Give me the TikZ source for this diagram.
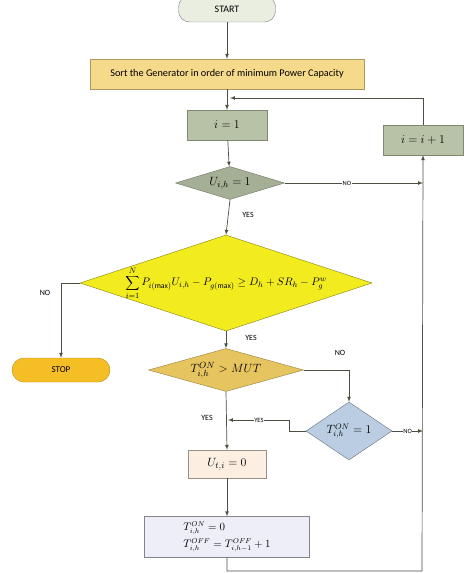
\documentclass[tikz,border=0pt]{standalone}
\usepackage{fontspec}
\setmainfont{Carlito}
\usetikzlibrary{arrows, shapes.geometric}
\definecolor{flowline}{RGB}{74,80,64}
\definecolor{startfill}{RGB}{233,238,224}
\definecolor{sortfill}{RGB}{246,218,140}
\definecolor{greenfill}{RGB}{183,194,166}
\definecolor{sumfill}{RGB}{242,236,30}
\definecolor{stopfill}{RGB}{245,190,36}
\definecolor{goldfill}{RGB}{230,196,96}
\definecolor{bluefill}{RGB}{186,205,226}
\definecolor{peachfill}{RGB}{252,239,226}
\definecolor{lilacfill}{RGB}{238,238,248}
\tikzstyle{start-box}=[draw=gray, fill=startfill, rounded corners=11bp, minimum width=97bp, minimum height=26bp, font=\fontsize{10}{12}\selectfont]
\tikzstyle{sort-box}=[draw=sortfill!70!black, fill=sortfill, minimum width=274bp, minimum height=30bp, font=\fontsize{10.3}{12}\selectfont]
\tikzstyle{green-box}=[draw=greenfill!70!black, fill=greenfill, minimum width=80bp, minimum height=30bp, font=\fontsize{13}{15}\selectfont]
\tikzstyle{stop-box}=[draw=stopfill!75!black, fill=stopfill, rounded corners=12bp, minimum width=98bp, minimum height=24bp, font=\fontsize{9}{10}\selectfont]
\tikzstyle{decision}=[diamond, inner sep=0pt, font=\fontsize{13}{15}\selectfont]
\tikzstyle{flow}=[draw=flowline, line width=0.7bp, -latex]
\tikzstyle{tag}=[font=\fontsize{8}{9}\selectfont, inner sep=1bp]
\tikzstyle{small-tag}=[font=\fontsize{6.5}{7}\selectfont, inner sep=0.5bp, fill=white]

\begin{document}
\begin{tikzpicture}[x=1bp, y=-1bp]
\useasboundingbox (0,0) rectangle (474,573);

\node[start-box] (start) at (227,9) {START};
\node[sort-box] (sort) at (227,74) {Sort the Generator in order of minimum Power Capacity};
\node[green-box] (init) at (227,125) {$i=1$};
\node[green-box] (incr) at (423,140) {$i=i+1$};
\node[decision, draw=greenfill!60!black, fill=greenfill!90!black, minimum width=109bp, minimum height=33bp, aspect=3.3] (chkU) at (230,183) {$U_{i,h}=1$};
\node[decision, draw=sumfill!55!black, fill=sumfill, minimum width=292bp, minimum height=96bp, aspect=3.04, inner ysep=-4bp, font=\fontsize{11}{13}\selectfont] (sumchk) at (226,283) {$\displaystyle\sum_{i=1}^{N} P_{i(\max)}U_{i,h}-P_{g(\max)}\geq D_h+SR_h-P_g^w$};
\node[stop-box] (stop) at (61,370) {STOP};
\node[decision, draw=goldfill!65!black, fill=goldfill, minimum width=155bp, minimum height=43bp, aspect=3.6] (chkT) at (226,370) {$T_{i,h}^{ON}>MUT$};
\node[decision, draw=bluefill!55!black, fill=bluefill, minimum width=86bp, minimum height=58bp, aspect=1.48, font=\fontsize{12}{14}\selectfont] (chkT1) at (349,431) {$T_{i,h}^{ON}=1$};
\node[draw=peachfill!60!black, fill=peachfill, minimum width=78bp, minimum height=28bp, font=\fontsize{13}{15}\selectfont] (setU) at (227,464) {$U_{t,i}=0$};
\node[draw=lilacfill!55!black, fill=lilacfill, minimum width=165bp, minimum height=41bp, align=left, inner sep=1bp, font=\fontsize{10.5}{17}\selectfont] (upd) at (227,537) {$T_{i,h}^{ON}=0$\\$T_{i,h}^{OFF}=T_{i,h-1}^{OFF}+1$};

\coordinate (loopin) at (230,98);
\coordinate (yesin) at (228,420);
\coordinate (bottom) at (422,571);

\draw [flow] (start) -- (sort);
\draw [flow] (sort) -- (init);
\draw [flow] (incr.north) |- (loopin);
\draw [flow] (init) -- (chkU);
\draw [flow] (chkU.east) -- node[small-tag, pos=0.45] {NO} (chkU.east -| incr.south);
\node[tag] (yesU) at (248,215) {YES};
\draw [flow] (chkU.south) -- (sumchk.north);
\draw [flow] (sumchk.west) -| (stop.north);
\node[tag] (noSum) at (45,293) {NO};
\draw [flow] (sumchk.south) -- (chkT.north);
\node[tag] (yesSum) at (251,338) {YES};
\draw [flow] (chkT.east) -| (chkT1.north);
\node[tag] (noT) at (340,353) {NO};
\draw [flow] (chkT1.west) -- ++(-16,0) |- node[small-tag, pos=0.75] {YES} (yesin);
\draw [flow] (chkT1.east) -- node[small-tag] {NO} (chkT1.east -| incr.south);
\node[tag] (yesT) at (207,418) {YES};
\draw [flow] (chkT.south) -- (setU.north);
\draw [flow] (setU) -- (upd);
\draw [flow] (upd.south) |- (bottom) -- (incr.south);
\end{tikzpicture}
\end{document}
